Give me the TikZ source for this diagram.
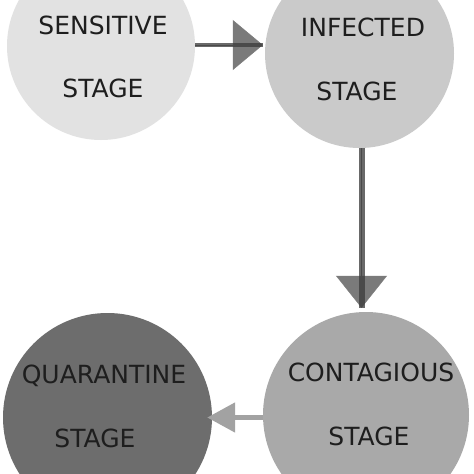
\documentclass[tikz,border=0pt]{standalone}
\usepackage{fontspec}
\setmainfont{DejaVu Sans}
\usetikzlibrary{arrows.meta}
\definecolor{csens}{HTML}{E2E2E2}
\definecolor{cinf}{HTML}{CACACA}
\definecolor{ccont}{HTML}{A9A9A9}
\definecolor{cquar}{HTML}{6D6D6D}
\definecolor{headA}{HTML}{7A7A7A}
\definecolor{lineA}{HTML}{3B3B3B}
\definecolor{headC}{HTML}{A2A2A2}
\definecolor{txt}{HTML}{1E1E1E}
\tikzset{
  stagecircle/.style={circle, inner sep=0pt, draw=none},
  lbl/.style={anchor=base, inner sep=0pt, text=txt, font=\fontsize{25}{30}\selectfont},
  shaft/.style={lineA, opacity=0.76},
}
\begin{document}
\begin{tikzpicture}[x=1pt,y=-1pt]
\useasboundingbox (0,0) rectangle (474,474);
\clip (0,0) rectangle (474,474);
\fill[white] (0,0) rectangle (474,474);
% circles
\node[stagecircle, fill=csens, minimum size=188pt] (sens) at (101,46) {};
\node[stagecircle, fill=cinf, minimum size=189pt] (inf) at (359.5,53.5) {};
\node[stagecircle, fill=ccont, minimum size=206pt] (cont) at (366,415) {};
\node[stagecircle, fill=cquar, minimum size=209pt] (quar) at (107.5,417.5) {};
% labels
\node[lbl] (t1a) at (103,34) {SENSITIVE};
\node[lbl] (t1b) at (103,97) {STAGE};
\node[lbl] (t2a) at (363,36) {INFECTED};
\node[lbl] (t2b) at (357,100) {STAGE};
\node[lbl] (t3a) at (371,381) {CONTAGIOUS};
\node[lbl] (t3b) at (369,445) {STAGE};
\node[lbl] (t4a) at (104,383) {QUARANTINE};
\node[lbl] (t4b) at (95,447) {STAGE};
% arrow sensitive -> infected
\draw[headA, line width=0.4pt, shorten >=2pt, -{Triangle[width=50pt,length=30pt]}]
  ([yshift=1pt]sens.east) -- ([yshift=1pt]sens.east -| inf.west);
\draw[shaft, line width=4.5pt, shorten >=2pt]
  ([yshift=1pt]sens.east) -- ([yshift=1pt]sens.east -| inf.west);
% arrow infected -> contagious
\draw[headA, line width=0.4pt, shorten >=4pt, -{Triangle[width=51pt,length=32pt]}]
  ([xshift=2pt]inf.south) -- ([xshift=2pt]inf.south |- cont.north);
\draw[shaft, line width=6pt, shorten >=4pt]
  ([xshift=2pt]inf.south) -- ([xshift=2pt]inf.south |- cont.north);
% arrow contagious -> quarantine
\draw[headC, line width=5pt, shorten >=-5pt, -{Triangle[width=29pt,length=28pt]}]
  ([yshift=-2.5pt]cont.west) -- ([yshift=-2.5pt]cont.west -| quar.east);
\end{tikzpicture}
\end{document}
